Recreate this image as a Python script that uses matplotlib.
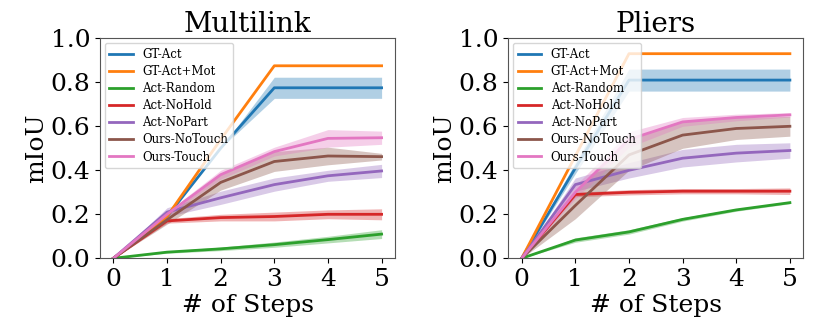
import numpy as np
import matplotlib
matplotlib.use("Agg")
import matplotlib.pyplot as plt

plt.rcParams["font.family"] = ["DejaVu Serif"]

steps = [0, 1, 2, 3, 4, 5]
methods = ["GT-Act", "GT-Act+Mot", "Act-Random", "Act-NoHold", "Act-NoPart", "Ours-NoTouch", "Ours-Touch"]
colors = ["#1f77b4", "#ff7f0e", "#2ca02c", "#d62728", "#9467bd", "#8c564b", "#e377c2"]

# Multilink: mean and spread per method
multilink_mean = {
    "GT-Act": [0, 0.19, 0.50, 0.775, 0.775, 0.775],
    "GT-Act+Mot": [0, 0.19, 0.54, 0.875, 0.875, 0.875],
    "Act-Random": [0, 0.028, 0.043, 0.062, 0.085, 0.11],
    "Act-NoHold": [0, 0.17, 0.185, 0.19, 0.20, 0.20],
    "Act-NoPart": [0, 0.21, 0.275, 0.335, 0.375, 0.397],
    "Ours-NoTouch": [0, 0.175, 0.345, 0.44, 0.465, 0.462],
    "Ours-Touch": [0, 0.20, 0.38, 0.485, 0.545, 0.548],
}
multilink_std = {
    "GT-Act": [0, 0, 0, 0.048, 0.048, 0.048],
    "GT-Act+Mot": [0, 0, 0, 0, 0, 0],
    "Act-Random": [0, 0.005, 0.008, 0.012, 0.015, 0.02],
    "Act-NoHold": [0, 0.01, 0.015, 0.02, 0.02, 0.025],
    "Act-NoPart": [0, 0.02, 0.03, 0.03, 0.025, 0.03],
    "Ours-NoTouch": [0, 0.02, 0.035, 0.045, 0.04, 0.015],
    "Ours-Touch": [0, 0.01, 0.02, 0.02, 0.04, 0.03],
}

# Pliers
pliers_mean = {
    "GT-Act": [0, 0.41, 0.81, 0.81, 0.81, 0.81],
    "GT-Act+Mot": [0, 0.465, 0.93, 0.93, 0.93, 0.93],
    "Act-Random": [0, 0.083, 0.12, 0.177, 0.22, 0.253],
    "Act-NoHold": [0, 0.29, 0.30, 0.305, 0.305, 0.305],
    "Act-NoPart": [0, 0.335, 0.40, 0.455, 0.478, 0.49],
    "Ours-NoTouch": [0, 0.24, 0.47, 0.56, 0.59, 0.60],
    "Ours-Touch": [0, 0.30, 0.54, 0.62, 0.64, 0.652],
}
pliers_std = {
    "GT-Act": [0, 0.025, 0.05, 0.05, 0.05, 0.05],
    "GT-Act+Mot": [0, 0, 0, 0, 0, 0],
    "Act-Random": [0, 0.01, 0.01, 0.008, 0.006, 0.005],
    "Act-NoHold": [0, 0.01, 0.012, 0.012, 0.012, 0.015],
    "Act-NoPart": [0, 0.03, 0.035, 0.04, 0.04, 0.035],
    "Ours-NoTouch": [0, 0.06, 0.07, 0.06, 0.05, 0.045],
    "Ours-Touch": [0, 0.03, 0.035, 0.02, 0.015, 0.01],
}

panels = [
    ("Multilink", multilink_mean, multilink_std),
    ("Pliers", pliers_mean, pliers_std),
]


def draw_panel(ax, title, means, stds):
    x = np.array(steps)
    for name, color in zip(methods, colors):
        m = np.array(means[name])
        s = np.array(stds[name])
        ax.plot(x, m, color=color, lw=2, label=name)
        ax.fill_between(x, m - s, m + s, color=color, alpha=0.35, lw=0)
    ax.set_ylim(0, 1.0)
    ax.set_xticks(steps)
    ax.set_yticks([0, 0.2, 0.4, 0.6, 0.8, 1.0])
    ax.tick_params(labelsize=18)
    ax.set_title(title, fontsize=20, pad=4)
    ax.set_xlabel("# of Steps", fontsize=18, labelpad=2)
    ax.set_ylabel("mIoU", fontsize=18, labelpad=2)
    for spine in ax.spines.values():
        spine.set_color("#555555")
    ax.legend(loc="upper left", fontsize=8.5, handlelength=2.0,
              borderaxespad=0.4, labelspacing=0.35)


fig = plt.figure(figsize=(8.25, 3.25), dpi=100)
ax1 = fig.add_axes([0.1212, 0.2052, 0.3576, 0.677])
ax2 = fig.add_axes([0.6161, 0.2052, 0.3576, 0.677])
for ax, (title, means, stds) in zip([ax1, ax2], panels):
    draw_panel(ax, title, means, stds)

fig.savefig("out.png", dpi=100)
